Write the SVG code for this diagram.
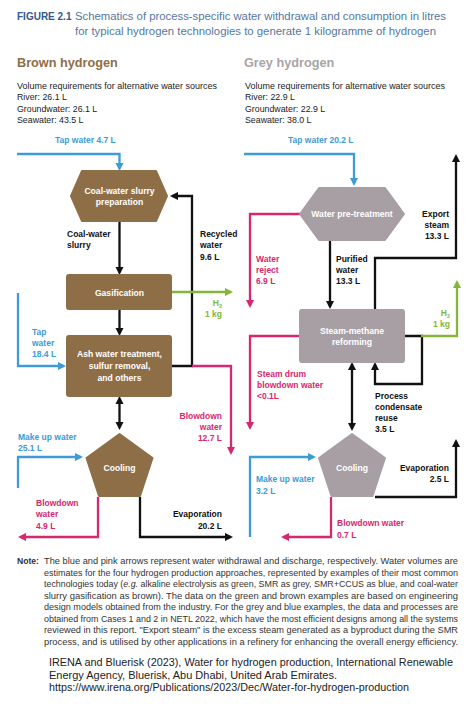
<svg xmlns="http://www.w3.org/2000/svg" width="474" height="704" viewBox="0 0 474 704">
<style>
text{font-family:"Liberation Sans",Arial,sans-serif}
.ttl{font-size:10px;fill:#5677a0}
.ttlb{font-size:10px;font-weight:bold;fill:#35598a}
.hb{font-size:12.7px;font-weight:bold;fill:#8e6e47}
.hg{font-size:12.7px;font-weight:bold;fill:#aaa4a7}
.vol{font-size:8.8px;fill:#222}
.lbl{font-size:8.5px;font-weight:bold}
.k{fill:#111}
.b{fill:#3d9bd5}
.p{fill:#d7286f}
.g{fill:#84b739}
.nt{font-size:8.6px;font-weight:bold;fill:#fff;text-anchor:middle}
.end{text-anchor:end}
.note{font-size:8.6px;fill:#333}
.cit{font-size:10.2px;fill:#222}
.ln{fill:none;stroke-width:2.3;stroke-linejoin:miter}
.lk{stroke:#111}.lb{stroke:#3d9bd5}.lp{stroke:#d7286f}.lg{stroke:#84b739}
.brown{fill:#8e6e47;stroke:#8e6e47;stroke-width:2;stroke-linejoin:round}
.grey{fill:#a89fa5;stroke:#a89fa5;stroke-width:2;stroke-linejoin:round}
</style>
<defs>
<marker id="mk" viewBox="0 0 10 10" refX="7" refY="5" markerWidth="8.5" markerHeight="8.5" markerUnits="userSpaceOnUse" orient="auto-start-reverse"><path d="M0,0 L10,5 L0,10 z" fill="#111"/></marker>
<marker id="mb" viewBox="0 0 10 10" refX="7" refY="5" markerWidth="8.5" markerHeight="8.5" markerUnits="userSpaceOnUse" orient="auto-start-reverse"><path d="M0,0 L10,5 L0,10 z" fill="#3d9bd5"/></marker>
<marker id="mp" viewBox="0 0 10 10" refX="7" refY="5" markerWidth="8.5" markerHeight="8.5" markerUnits="userSpaceOnUse" orient="auto-start-reverse"><path d="M0,0 L10,5 L0,10 z" fill="#d7286f"/></marker>
<marker id="mg" viewBox="0 0 10 10" refX="7" refY="5" markerWidth="8.5" markerHeight="8.5" markerUnits="userSpaceOnUse" orient="auto-start-reverse"><path d="M0,0 L10,5 L0,10 z" fill="#84b739"/></marker>
</defs>
<rect width="474" height="704" fill="#fff"/>

<g id="title">
<text x="17" y="20" class="ttlb">FIGURE 2.1</text>
<text x="75" y="20" class="ttl" textLength="371" lengthAdjust="spacingAndGlyphs">Schematics of process-specific water withdrawal and consumption in litres</text>
<text x="75" y="35" class="ttl" textLength="361" lengthAdjust="spacingAndGlyphs">for typical hydrogen technologies to generate 1 kilogramme of hydrogen</text>
</g>

<g id="brown-header">
<text x="17" y="67" class="hb">Brown hydrogen</text>
<text x="17" y="89" class="vol" textLength="200" lengthAdjust="spacingAndGlyphs">Volume requirements for alternative water sources</text>
<text x="17" y="100" class="vol">River: 26.1 L</text>
<text x="17" y="112" class="vol">Groundwater: 26.1 L</text>
<text x="17" y="123" class="vol">Seawater: 43.5 L</text>
</g>
<g id="grey-header">
<text x="244" y="67" class="hg">Grey hydrogen</text>
<text x="245" y="89" class="vol" textLength="200" lengthAdjust="spacingAndGlyphs">Volume requirements for alternative water sources</text>
<text x="245" y="100" class="vol">River: 22.9 L</text>
<text x="245" y="112" class="vol">Groundwater: 22.9 L</text>
<text x="245" y="123" class="vol">Seawater: 38.0 L</text>
</g>

<g id="connectors">
<path class="ln lb" d="M17,154 H119.5 V168.5" marker-end="url(#mb)"/>
<path class="ln lk" d="M119.5,221 V272.5" marker-end="url(#mk)"/>
<path class="ln lk" d="M119.5,309 V333.5" marker-end="url(#mk)"/>
<path class="ln lk" d="M171,366 H192 V196 H172.5" marker-end="url(#mk)"/>
<path class="ln lg" d="M171,292 H230.5" marker-end="url(#mg)"/>
<path class="ln lp" d="M192,366 H231 V452.5" marker-end="url(#mp)"/>
<path class="ln lb" d="M18,293 V366 H63.5" marker-end="url(#mb)"/>
<path class="ln lk" d="M119.5,398.5 V427.5" marker-start="url(#mk)" marker-end="url(#mk)"/>
<path class="ln lb" d="M18,488 V457 H80.5" marker-end="url(#mb)"/>
<path class="ln lp" d="M98,497 V537 H20.5" marker-end="url(#mp)"/>
<path class="ln lk" d="M140,497 V537 H230.5" marker-end="url(#mk)"/>

<path class="ln lb" d="M244,154 H354 V183.5" marker-end="url(#mb)"/>
<path class="ln lp" d="M300,214 H250 V305.5" marker-end="url(#mp)"/>
<path class="ln lk" d="M330,240 V306.5" marker-end="url(#mk)"/>
<path class="ln lk" d="M375,310 V258 H456 V156.5" marker-end="url(#mk)"/>
<path class="ln lp" d="M300,336 H250 V427.5" marker-end="url(#mp)"/>
<path class="ln lk" d="M404,336 H422 V384 H375 V364.5" marker-end="url(#mk)"/>
<path class="ln lg" d="M421,336 H457 V282.5" marker-end="url(#mg)"/>
<path class="ln lk" d="M352,364.5 V428.5" marker-start="url(#mk)" marker-end="url(#mk)"/>
<path class="ln lk" d="M375,497 H456 V441.5" marker-end="url(#mk)"/>
<path class="ln lb" d="M250,537 V457 H313.5" marker-end="url(#mb)"/>
<path class="ln lp" d="M331,497 V537 H283.5" marker-end="url(#mp)"/>
</g>

<g id="connector-labels">
<text x="55" y="143" class="lbl b">Tap water 4.7 L</text>
<text x="67" y="237" class="lbl k">Coal-water</text>
<text x="67" y="248" class="lbl k">slurry</text>
<text x="200" y="237" class="lbl k">Recycled</text>
<text x="200" y="248" class="lbl k">water</text>
<text x="200" y="260" class="lbl k">9.6 L</text>
<text x="222" y="306" class="lbl g end">H<tspan font-size="5.5" dy="1.5">2</tspan></text>
<text x="222" y="317" class="lbl g end">1 kg</text>
<text x="32" y="335" class="lbl b">Tap</text>
<text x="32" y="346" class="lbl b">water</text>
<text x="32" y="357" class="lbl b">18.4 L</text>
<text x="222" y="419" class="lbl p end">Blowdown</text>
<text x="222" y="430" class="lbl p end">water</text>
<text x="222" y="441" class="lbl p end">12.7 L</text>
<text x="18" y="440" class="lbl b">Make up water</text>
<text x="18" y="451" class="lbl b">25.1 L</text>
<text x="36" y="506" class="lbl p">Blowdown</text>
<text x="36" y="517" class="lbl p">water</text>
<text x="36" y="529" class="lbl p">4.9 L</text>
<text x="222" y="517" class="lbl k end">Evaporation</text>
<text x="222" y="529" class="lbl k end">20.2 L</text>

<text x="288" y="143" class="lbl b">Tap water 20.2 L</text>
<text x="449" y="217" class="lbl k end">Export</text>
<text x="449" y="228" class="lbl k end">steam</text>
<text x="449" y="239" class="lbl k end">13.3 L</text>
<text x="256" y="262" class="lbl p">Water</text>
<text x="256" y="273" class="lbl p">reject</text>
<text x="256" y="284" class="lbl p">6.9 L</text>
<text x="336" y="262" class="lbl k">Purified</text>
<text x="336" y="273" class="lbl k">water</text>
<text x="336" y="284" class="lbl k">13.3 L</text>
<text x="450" y="316" class="lbl g end">H<tspan font-size="5.5" dy="1.5">2</tspan></text>
<text x="450" y="327" class="lbl g end">1 kg</text>
<text x="257" y="377" class="lbl p">Steam drum</text>
<text x="257" y="388" class="lbl p">blowdown water</text>
<text x="257" y="399" class="lbl p">&lt;0.1L</text>
<text x="375" y="399" class="lbl k">Process</text>
<text x="375" y="410" class="lbl k">condensate</text>
<text x="375" y="421" class="lbl k">reuse</text>
<text x="375" y="432" class="lbl k">3.5 L</text>
<text x="449" y="471" class="lbl k end">Evaporation</text>
<text x="449" y="482" class="lbl k end">2.5 L</text>
<text x="256" y="482" class="lbl b">Make up water</text>
<text x="256" y="494" class="lbl b">3.2 L</text>
<text x="337" y="526" class="lbl p">Blowdown water</text>
<text x="337" y="538" class="lbl p">0.7 L</text>
</g>

<g id="coal-slurry-prep">
<polygon class="brown" points="82,171 156,171 167,196 156,221 82,221 71,196"/>
<text x="119.5" y="194" class="nt">Coal-water slurry</text>
<text x="119.5" y="205" class="nt">preparation</text>
</g>
<g id="gasification">
<rect class="brown" x="67" y="275" width="104" height="34" rx="2"/>
<text x="119.5" y="296" class="nt">Gasification</text>
</g>
<g id="ash-water">
<rect class="brown" x="67" y="336" width="104" height="60" rx="2"/>
<text x="119.5" y="357" class="nt">Ash water treatment,</text>
<text x="119.5" y="369" class="nt">sulfur removal,</text>
<text x="119.5" y="381" class="nt">and others</text>
</g>
<g id="brown-cooling">
<polygon class="brown" points="119.5,434 152.5,458 140,496 99,496 86.5,458"/>
<text x="119.5" y="471" class="nt">Cooling</text>
</g>

<g id="water-pretreatment">
<polygon class="grey" points="319,188 385,188 404,214 385,240 319,240 300,214"/>
<text x="352" y="217" class="nt">Water pre-treatment</text>
</g>
<g id="smr">
<rect class="grey" x="300" y="310" width="104" height="52" rx="2"/>
<text x="352" y="334" class="nt">Steam-methane</text>
<text x="352" y="345" class="nt">reforming</text>
</g>
<g id="grey-cooling">
<polygon class="grey" points="352,434 385,458 372.5,496 331.5,496 319,458"/>
<text x="352" y="471" class="nt">Cooling</text>
</g>

<g id="note">
<text x="17" y="564" class="note" font-weight="bold">Note:</text>
<text x="44" y="564" class="note" textLength="414" lengthAdjust="spacingAndGlyphs">The blue and pink arrows represent water withdrawal and discharge, respectively. Water volumes are</text>
<text x="44" y="575.5" class="note" textLength="414" lengthAdjust="spacingAndGlyphs">estimates for the four hydrogen production approaches, represented by examples of their most common</text>
<text x="44" y="587" class="note" textLength="414" lengthAdjust="spacingAndGlyphs">technologies today (<tspan font-style="italic">e.g.</tspan> alkaline electrolysis as green, SMR as grey, SMR+CCUS as blue, and coal-water</text>
<text x="44" y="598.5" class="note" textLength="414" lengthAdjust="spacingAndGlyphs">slurry gasification as brown). The data on the green and brown examples are based on engineering</text>
<text x="44" y="610" class="note" textLength="414" lengthAdjust="spacingAndGlyphs">design models obtained from the industry. For the grey and blue examples, the data and processes are</text>
<text x="44" y="621.5" class="note" textLength="414" lengthAdjust="spacingAndGlyphs">obtained from Cases 1 and 2 in NETL 2022, which have the most efficient designs among all the systems</text>
<text x="44" y="633" class="note" textLength="414" lengthAdjust="spacingAndGlyphs">reviewed in this report. "Export steam" is the excess steam generated as a byproduct during the SMR</text>
<text x="44" y="644.5" class="note" textLength="414" lengthAdjust="spacingAndGlyphs">process, and is utilised by other applications in a refinery for enhancing the overall energy efficiency.</text>
</g>
<g id="citation">
<text x="49" y="666" class="cit" textLength="404" lengthAdjust="spacingAndGlyphs">IRENA and Bluerisk (2023), Water for hydrogen production, International Renewable</text>
<text x="49" y="678.5" class="cit" textLength="288" lengthAdjust="spacingAndGlyphs">Energy Agency, Bluerisk, Abu Dhabi, United Arab Emirates.</text>
<text x="49" y="691" class="cit" textLength="360" lengthAdjust="spacingAndGlyphs">https://www.irena.org/Publications/2023/Dec/Water-for-hydrogen-production</text>
</g>
</svg>
